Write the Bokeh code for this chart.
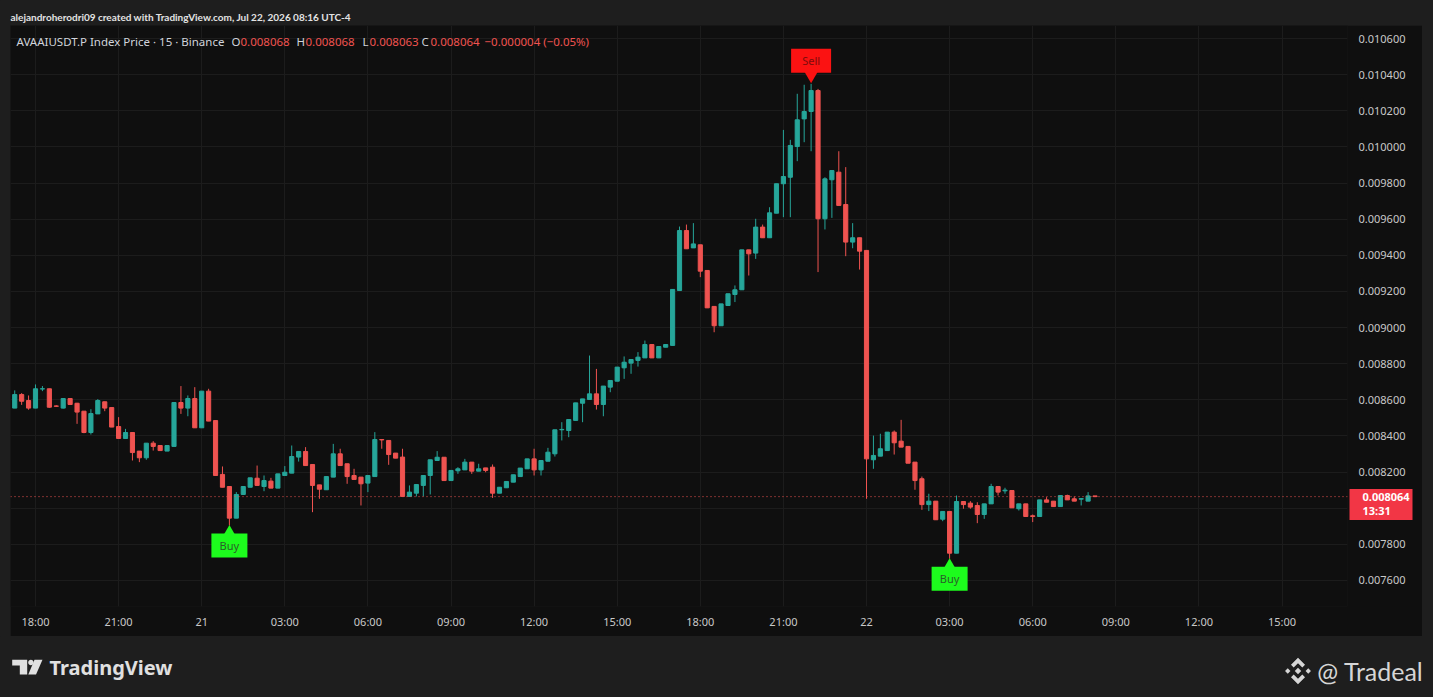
import math
from bokeh.plotting import figure
from bokeh.layouts import column, row
from bokeh.models import (ColumnDataSource, FixedTicker, PrintfTickFormatter, Range1d, LinearAxis,
                          Span, Label, PolyAnnotation, Spacer)
from bokeh.embed import file_html
from bokeh.resources import INLINE
from bokeh.core.properties import value

# ---------------- data (AVAAIUSDT.P index price, 15-minute candles) ----------------
FIRST_BAR_HOUR = 17.25   # first candle 17:15 (hours counted from Jul 20 00:00)
BAR_HOURS = 0.25         # 15 minutes

OPEN = [
    0.008554, 0.008629, 0.008596, 0.008554, 0.008660, 0.008661, 0.008566, 0.008554, 0.008607, 0.008581,
    0.008537, 0.008419, 0.008522, 0.008589, 0.008557, 0.008452, 0.008386, 0.008419, 0.008316, 0.008279,
    0.008360, 0.008347, 0.008316, 0.008342, 0.008585, 0.008554, 0.008607, 0.008445, 0.008648, 0.008485,
    0.008187, 0.008120, 0.007945, 0.008076, 0.008116, 0.008166, 0.008120, 0.008150, 0.008111, 0.008181,
    0.008194, 0.008283, 0.008314, 0.008242, 0.008129, 0.008102, 0.008172, 0.008301, 0.008246, 0.008181,
    0.008172, 0.008139, 0.008175, 0.008380, 0.008375, 0.008305, 0.008283, 0.008065, 0.008083, 0.008126,
    0.008181, 0.008264, 0.008282, 0.008153, 0.008207, 0.008212, 0.008255, 0.008205, 0.008223, 0.008227,
    0.008083, 0.008113, 0.008144, 0.008175, 0.008218, 0.008273, 0.008212, 0.008260, 0.008301, 0.008434,
    0.008430, 0.008486, 0.008581, 0.008602, 0.008633, 0.008574, 0.008670, 0.008703, 0.008777, 0.008803,
    0.008818, 0.008832, 0.008906, 0.008832, 0.008891, 0.008901, 0.009205, 0.009537, 0.009441, 0.009458,
    0.009316, 0.009117, 0.009010, 0.009122, 0.009183, 0.009209, 0.009430, 0.009412, 0.009556, 0.009497,
    0.009633, 0.009796, 0.009832, 0.010002, 0.010155, 0.010196, 0.010312, 0.009602, 0.009818, 0.009860,
    0.009681, 0.009473, 0.009497, 0.009427, 0.008268, 0.008288, 0.008319, 0.008421, 0.008371, 0.008342,
    0.008255, 0.008163, 0.008020, 0.008039, 0.007939, 0.007982, 0.007751, 0.008037, 0.008028, 0.008015,
    0.007965, 0.008024, 0.008120, 0.008096, 0.008098, 0.007997, 0.008024, 0.007958, 0.007954, 0.008046,
    0.008039, 0.008009, 0.008070, 0.008052, 0.008050, 0.008039, 0.008068,
]
HIGH = [
    0.008652, 0.008637, 0.008624, 0.008685, 0.008676, 0.008661, 0.008570, 0.008610, 0.008607, 0.008583,
    0.008537, 0.008548, 0.008604, 0.008589, 0.008557, 0.008504, 0.008439, 0.008419, 0.008316, 0.008360,
    0.008371, 0.008347, 0.008347, 0.008585, 0.008676, 0.008624, 0.008670, 0.008648, 0.008661, 0.008485,
    0.008231, 0.008120, 0.008089, 0.008120, 0.008168, 0.008236, 0.008181, 0.008168, 0.008190, 0.008233,
    0.008347, 0.008314, 0.008338, 0.008242, 0.008129, 0.008175, 0.008356, 0.008329, 0.008246, 0.008218,
    0.008172, 0.008181, 0.008421, 0.008382, 0.008375, 0.008305, 0.008329, 0.008126, 0.008131, 0.008181,
    0.008268, 0.008316, 0.008282, 0.008209, 0.008227, 0.008273, 0.008255, 0.008246, 0.008223, 0.008242,
    0.008116, 0.008148, 0.008185, 0.008222, 0.008273, 0.008329, 0.008264, 0.008334, 0.008434, 0.008476,
    0.008491, 0.008583, 0.008605, 0.008845, 0.008771, 0.008676, 0.008707, 0.008781, 0.008840, 0.008823,
    0.008864, 0.008928, 0.008906, 0.008895, 0.008906, 0.009211, 0.009559, 0.009570, 0.009578, 0.009458,
    0.009316, 0.009117, 0.009131, 0.009187, 0.009233, 0.009430, 0.009430, 0.009602, 0.009570, 0.009666,
    0.009796, 0.010094, 0.010039, 0.010294, 0.010344, 0.010349, 0.010321, 0.009832, 0.009869, 0.009976,
    0.009888, 0.009578, 0.009497, 0.009427, 0.008402, 0.008412, 0.008421, 0.008430, 0.008489, 0.008342,
    0.008255, 0.008175, 0.008080, 0.008039, 0.007982, 0.007982, 0.008070, 0.008037, 0.008039, 0.008033,
    0.008024, 0.008135, 0.008120, 0.008113, 0.008098, 0.008024, 0.008024, 0.007965, 0.008046, 0.008061,
    0.008039, 0.008070, 0.008075, 0.008065, 0.008056, 0.008089, 0.008068,
]
LOW = [
    0.008554, 0.008572, 0.008545, 0.008554, 0.008648, 0.008556, 0.008560, 0.008552, 0.008574, 0.008467,
    0.008415, 0.008408, 0.008522, 0.008537, 0.008449, 0.008386, 0.008386, 0.008264, 0.008255, 0.008268,
    0.008319, 0.008319, 0.008316, 0.008342, 0.008522, 0.008509, 0.008445, 0.008445, 0.008482, 0.008181,
    0.008116, 0.007904, 0.007945, 0.008076, 0.008116, 0.008126, 0.008094, 0.008111, 0.008111, 0.008181,
    0.008194, 0.008258, 0.008236, 0.007978, 0.008052, 0.008102, 0.008172, 0.008236, 0.008135, 0.008159,
    0.008015, 0.008089, 0.008175, 0.008329, 0.008240, 0.008277, 0.008065, 0.008065, 0.008065, 0.008065,
    0.008076, 0.008264, 0.008153, 0.008153, 0.008190, 0.008212, 0.008190, 0.008205, 0.008199, 0.008057,
    0.008083, 0.008113, 0.008144, 0.008175, 0.008218, 0.008181, 0.008181, 0.008260, 0.008286, 0.008375,
    0.008393, 0.008486, 0.008476, 0.008602, 0.008546, 0.008509, 0.008642, 0.008703, 0.008716, 0.008744,
    0.008784, 0.008832, 0.008832, 0.008832, 0.008891, 0.008901, 0.009205, 0.009436, 0.009441, 0.009279,
    0.009109, 0.008974, 0.009010, 0.009122, 0.009141, 0.009209, 0.009288, 0.009380, 0.009497, 0.009497,
    0.009633, 0.009611, 0.009611, 0.009921, 0.010026, 0.009976, 0.009307, 0.009543, 0.009607, 0.009676,
    0.009395, 0.009439, 0.009321, 0.008052, 0.008218, 0.008288, 0.008319, 0.008297, 0.008338, 0.008249,
    0.008102, 0.007991, 0.007984, 0.007936, 0.007928, 0.007720, 0.007751, 0.007997, 0.007997, 0.007917,
    0.007941, 0.008024, 0.008070, 0.008080, 0.008002, 0.007987, 0.007954, 0.007923, 0.007954, 0.008033,
    0.008009, 0.008009, 0.008046, 0.008039, 0.008015, 0.008039, 0.008063,
]
CLOSE = [
    0.008629, 0.008592, 0.008554, 0.008661, 0.008661, 0.008559, 0.008564, 0.008607, 0.008574, 0.008532,
    0.008419, 0.008524, 0.008596, 0.008554, 0.008449, 0.008386, 0.008419, 0.008308, 0.008279, 0.008360,
    0.008342, 0.008319, 0.008347, 0.008585, 0.008554, 0.008607, 0.008445, 0.008648, 0.008482, 0.008181,
    0.008116, 0.007945, 0.008076, 0.008120, 0.008168, 0.008126, 0.008153, 0.008111, 0.008190, 0.008199,
    0.008286, 0.008314, 0.008236, 0.008126, 0.008105, 0.008175, 0.008301, 0.008236, 0.008175, 0.008159,
    0.008135, 0.008181, 0.008380, 0.008378, 0.008297, 0.008277, 0.008065, 0.008089, 0.008131, 0.008181,
    0.008268, 0.008282, 0.008153, 0.008209, 0.008218, 0.008255, 0.008205, 0.008218, 0.008209, 0.008083,
    0.008116, 0.008148, 0.008185, 0.008222, 0.008273, 0.008212, 0.008264, 0.008310, 0.008434, 0.008436,
    0.008491, 0.008583, 0.008605, 0.008633, 0.008574, 0.008676, 0.008707, 0.008781, 0.008808, 0.008823,
    0.008836, 0.008906, 0.008832, 0.008895, 0.008906, 0.009211, 0.009537, 0.009436, 0.009463, 0.009312,
    0.009109, 0.009010, 0.009131, 0.009187, 0.009209, 0.009430, 0.009408, 0.009556, 0.009497, 0.009635,
    0.009796, 0.009836, 0.010008, 0.010150, 0.010196, 0.010312, 0.009602, 0.009823, 0.009869, 0.009676,
    0.009473, 0.009497, 0.009423, 0.008273, 0.008292, 0.008329, 0.008421, 0.008362, 0.008338, 0.008249,
    0.008153, 0.008020, 0.008039, 0.007936, 0.007982, 0.007751, 0.008037, 0.008020, 0.008006, 0.007965,
    0.008024, 0.008120, 0.008089, 0.008100, 0.008002, 0.008024, 0.007954, 0.007954, 0.008046, 0.008033,
    0.008009, 0.008070, 0.008046, 0.008039, 0.008053, 0.008068, 0.008064,
]
BUY_BARS = [31, 135]
SELL_BARS = [115]

TIME_TICKS = [18, 21, 24, 27, 30, 33, 36, 39, 42, 45, 48, 51, 54, 57, 60, 63]
TIME_LABELS = ["18:00", "21:00", "21", "03:00", "06:00", "09:00", "12:00", "15:00",
               "18:00", "21:00", "22", "03:00", "06:00", "09:00", "12:00", "15:00"]
PRICE_TICKS = [0.0076, 0.0078, 0.0080, 0.0082, 0.0084, 0.0086, 0.0088, 0.0090,
               0.0092, 0.0094, 0.0096, 0.0098, 0.0100, 0.0102, 0.0104, 0.0106]

HEADER = "alejandroherodri09 created with TradingView.com, Jul 22, 2026 08:16 UTC-4"
SYMBOL = "AVAAIUSDT.P Index Price \u00b7 15 \u00b7 Binance"
COUNTDOWN = "13:31"

# ---------------- style ----------------
FONT = "Noto Sans"
UP, DOWN, TAG = "#26a69a", "#ef5350", "#f23645"
OUTER, PANE, GRID = "#1e1e1e", "#0f0f0f", "#1c1c1c"
AXIS_TXT = "#c9c9c9"
TOTAL_W = 1433
HEAD_H, PANE_H, FOOT_H = 25, 611, 61
PANE_L, PANE_W = 10, 1412
FR, FB = 75, 30                      # price scale width, time scale height
FW, FH = PANE_W - FR, PANE_H - FB
X0, X1 = 17.0975, 65.3645
Y0, Y1 = 0.0074558, 0.010672
ppx = (Y1 - Y0) / FH                 # price per screen pixel


def blank(w, h):
    f = figure(width=w, height=h, output_backend="svg", toolbar_location=None,
               x_range=Range1d(0, w), y_range=Range1d(h, 0),
               x_axis_location=None, y_axis_location=None, min_border=0,
               background_fill_color=OUTER, border_fill_color=OUTER, outline_line_color=None)
    f.grid.visible = False
    return f


# ---------------- main chart pane ----------------
xs = [FIRST_BAR_HOUR + BAR_HOURS * i for i in range(len(OPEN))]
src = ColumnDataSource(dict(
    x=xs, o=OPEN, h=HIGH, l=LOW, c=CLOSE,
    top=[max(o, c) for o, c in zip(OPEN, CLOSE)],
    bottom=[min(o, c) for o, c in zip(OPEN, CLOSE)],
    color=[UP if c >= o else DOWN for o, c in zip(OPEN, CLOSE)],
))

p = figure(width=PANE_W, height=PANE_H, output_backend="svg", toolbar_location=None,
           x_range=Range1d(X0, X1), y_range=Range1d(Y0, Y1), y_axis_location="right",
           min_border_left=0, min_border_top=0, min_border_right=FR, min_border_bottom=FB,
           background_fill_color=PANE, border_fill_color=PANE, outline_line_color=None)

xt = FixedTicker(ticks=TIME_TICKS)
yt = FixedTicker(ticks=PRICE_TICKS)
p.xaxis.ticker = xt
p.yaxis.ticker = yt
p.xgrid.ticker = xt
p.ygrid.ticker = yt
p.xaxis.major_label_overrides = {t: s for t, s in zip(TIME_TICKS, TIME_LABELS)}
p.yaxis.formatter = PrintfTickFormatter(format="%.6f")
p.yaxis.major_label_overrides = {0.0080: ""}   # hidden behind the last-price tag
for ax in (p.xaxis[0], p.yaxis[0]):
    ax.axis_line_color = None
    ax.major_tick_line_color = None
    ax.minor_tick_line_color = None
    ax.major_tick_out = 0
    ax.minor_tick_out = 0
    ax.major_label_text_font = FONT
    ax.major_label_text_font_size = "11px"
    ax.major_label_text_color = AXIS_TXT
p.yaxis.major_label_standoff = 11
p.xaxis.major_label_standoff = 7
p.xgrid.grid_line_color = GRID
p.ygrid.grid_line_color = GRID

# last-price tag on the price scale (second right axis: a thick minor tick as the red box)
last = CLOSE[-1]
tag_ticks = FixedTicker(ticks=[last, last - 14 * ppx], minor_ticks=[last - 7.5 * ppx])
tag = LinearAxis(ticker=tag_ticks, axis_line_color=None, major_tick_line_color=None,
                 major_tick_out=0, major_tick_in=0,
                 minor_tick_line_color=TAG, minor_tick_line_width=31,
                 minor_tick_in=59, minor_tick_out=4,
                 major_label_standoff=-50, major_label_text_font=FONT,
                 major_label_text_font_size="11px", major_label_text_font_style="bold",
                 major_label_text_color="#ffffff",
                 major_label_overrides={last: f"{last:.6f}", last - 14 * ppx: COUNTDOWN},
                 axis_label=" ", axis_label_standoff=0, axis_label_text_font_size="4px")
p.add_layout(tag, "right")

# candles
p.segment(x0="x", y0="l", x1="x", y1="h", line_color="color", line_width=1, source=src)
p.vbar(x="x", width=BAR_HOURS * 0.6, top="top", bottom="bottom",
       fill_color="color", line_color="color", line_width=1, source=src)

# last price line
p.add_layout(Span(location=last, dimension="width", line_color=DOWN,
                  line_dash="1 3", line_width=1))

# buy / sell signals
BUY_BG, BUY_TX = "#1dfc1d", "#2a5c2a"
SELL_BG, SELL_TX = "#fb1212", "#7d0c0c"
buy = ColumnDataSource(dict(x=[xs[i] for i in BUY_BARS],
                            yb=[LOW[i] - 20 * ppx for i in BUY_BARS],
                            ya=[LOW[i] - 7 * ppx for i in BUY_BARS],
                            t=["Buy"] * len(BUY_BARS)))
sell = ColumnDataSource(dict(x=[xs[i] for i in SELL_BARS],
                             yb=[HIGH[i] + 23 * ppx for i in SELL_BARS],
                             ya=[HIGH[i] + 8 * ppx for i in SELL_BARS],
                             t=["Sell"] * len(SELL_BARS)))
for s_, bg, tx, mk, bw in ((buy, BUY_BG, BUY_TX, "triangle", 36), (sell, SELL_BG, SELL_TX, "inverted_triangle", 40)):
    p.scatter(x="x", y="ya", marker=mk, size=13, fill_color=bg, line_color=None, source=s_)
    p.rect(x="x", y="yb", width=bw, height=24, width_units="screen", height_units="screen",
           fill_color=bg, line_color=None, source=s_)
    p.text(x="x", y="yb", text="t", source=s_, text_align="center", text_baseline="middle",
           text_font=value(FONT), text_font_size="11px", text_color=tx)

# legend line inside the pane
chg = CLOSE[-1] - CLOSE[-2]
pct = chg / CLOSE[-2] * 100
sign = "\u2212" if chg < 0 else "+"
pieces = [
    (16, SYMBOL, "#d1d4dc"),
    (231, "O", "#d1d4dc"), (240, f"{OPEN[-1]:.6f}", DOWN),
    (296, "H", "#d1d4dc"), (305, f"{HIGH[-1]:.6f}", DOWN),
    (362, "L", "#d1d4dc"), (369, f"{LOW[-1]:.6f}", DOWN),
    (421, "C", "#d1d4dc"), (430, f"{CLOSE[-1]:.6f}", DOWN),
    (484, f"{sign}{abs(chg):.6f} ({sign}{abs(pct):.2f}%)", DOWN),
]
for sx, txt, col in pieces:
    p.add_layout(Label(x=sx - PANE_L, y=41 - HEAD_H, x_units="canvas", y_units="canvas", text=txt,
                       text_font=FONT, text_font_size="11.5px", text_color=col,
                       text_baseline="middle"))

# ---------------- header strip ----------------
head = blank(TOTAL_W, HEAD_H)
head.add_layout(Label(x=10, y=16.7, x_units="canvas", y_units="canvas", text=HEADER,
                      text_font="Lato", text_font_size="10px", text_font_style="bold",
                      text_color="#e3e3e3", text_baseline="alphabetic"))

# ---------------- footer strip ----------------
foot = blank(TOTAL_W, FOOT_H)
LOGO = "#e0e0e0"
def poly(f, pts, col):
    f.add_layout(PolyAnnotation(xs=[a for a, b in pts], ys=[b for a, b in pts],
                                xs_units="canvas", ys_units="canvas",
                                fill_color=col, fill_alpha=1.0, line_color=None))
poly(foot, [(11.7, 23.3), (26.7, 23.3), (26.7, 38), (19.3, 38), (19.3, 29), (11.7, 29)], LOGO)
poly(foot, [(30.4 + 2.7 * math.cos(a * math.pi / 8), 26.0 + 2.7 * math.sin(a * math.pi / 8))
            for a in range(16)], LOGO)
poly(foot, [(34.0, 23.3), (42.0, 23.3), (35.5, 38), (27.8, 38)], LOGO)
foot.add_layout(Label(x=49, y=31, x_units="canvas", y_units="canvas", text="TradingView",
                      text_font=FONT, text_font_size="20px", text_font_style="bold",
                      text_color=LOGO, text_baseline="middle"))
bx, by, s = 1297.5, 34.5, 13.5
for shp in [
    [(0, -0.24), (0.24, 0), (0, 0.24), (-0.24, 0)],
    [(-0.76, -0.2), (-0.56, 0), (-0.76, 0.2), (-0.96, 0)],
    [(0.76, -0.2), (0.96, 0), (0.76, 0.2), (0.56, 0)],
    [(-0.52, -0.46), (0, -0.98), (0.52, -0.46), (0.32, -0.26), (0, -0.58), (-0.32, -0.26)],
    [(-0.52, 0.46), (0, 0.98), (0.52, 0.46), (0.32, 0.26), (0, 0.58), (-0.32, 0.26)],
]:
    poly(foot, [(bx + s * u, by + s * v) for u, v in shp], "#d6d6d6")
foot.add_layout(Label(x=1423, y=34, x_units="canvas", y_units="canvas", text="@ Tradeal",
                      text_font="Lato", text_font_size="25px", text_color="#d6d6d6",
                      text_align="right", text_baseline="middle"))

page = column(head,
              row(Spacer(width=PANE_L, height=PANE_H), p,
                  Spacer(width=TOTAL_W - PANE_L - PANE_W, height=PANE_H)),
              foot)

html = file_html(page, INLINE, title="AVAAIUSDT.P Index Price")
html = html.replace("</head>", "<style>html, body { background: #1e1e1e; }</style></head>", 1)
open("out.html", "w").write(html)
